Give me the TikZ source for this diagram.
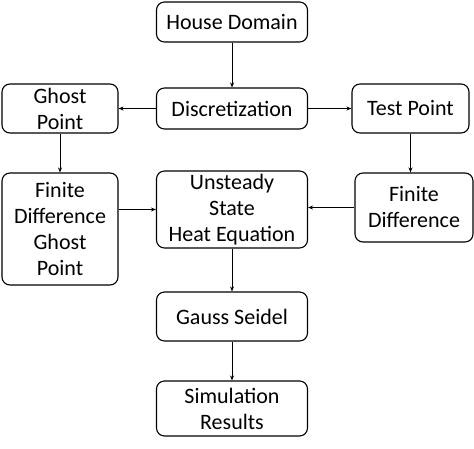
\documentclass[tikz,border=0pt]{standalone}
\usepackage{fontspec}
\setmainfont{Carlito}
\usetikzlibrary{arrows.meta}
\begin{document}
\begin{tikzpicture}[x=1pt, y=-1pt,
   box/.style={draw, rounded corners=8pt, line width=1.1pt, align=center, inner sep=0pt,
      font=\fontsize{22}{26}\selectfont},
   flow/.style={-{Stealth[length=5pt,width=4pt]}, line width=0.9pt},
   thickflow/.style={flow, line width=1.8pt}]
   \useasboundingbox (0,0) rectangle (474,448);
   % boxes
   \node[box, minimum width=151pt, minimum height=40pt] (house) at (232, 22) {House Domain};
   \node[box, minimum width=151pt, minimum height=41pt] (disc) at (232, 108.5) {Discretization};
   \node[box, minimum width=116pt, minimum height=49pt] (ghost) at (60, 108.5) {Ghost\\Point};
   \node[box, minimum width=117pt, minimum height=49pt] (test) at (410.5, 108.5) {Test Point};
   \node[box, minimum width=116pt, minimum height=112pt] (fdgp) at (60, 229) {Finite\\Difference\\Ghost\\Point};
   \node[box, minimum width=151pt, minimum height=77pt] (heat) at (232, 209.5) {Unsteady\\State\\Heat Equation};
   \node[box, minimum width=118pt, minimum height=69pt] (fd) at (414, 207.5) {Finite\\Difference};
   \node[box, minimum width=151pt, minimum height=49pt] (gauss) at (232, 316.5) {Gauss Seidel};
   \node[box, minimum width=151pt, minimum height=55pt] (sim) at (232, 408.5) {Simulation\\Results};
   % connectors
   \draw[flow] (house) -- (disc);
   \draw[flow] (disc) -- (ghost);
   \draw[flow] (disc) -- (test);
   \draw[flow] (ghost) -- (fdgp);
   \draw[flow] (test.south) -- (test.south |- fd.north);
   \draw[thickflow] (fdgp.east |- heat.west) -- (heat.west);
   \draw[thickflow] (fd.west) -- (fd.west -| heat.east);
   \draw[flow] (heat) -- (gauss);
   \draw[flow] (gauss) -- (sim);
\end{tikzpicture}
\end{document}
